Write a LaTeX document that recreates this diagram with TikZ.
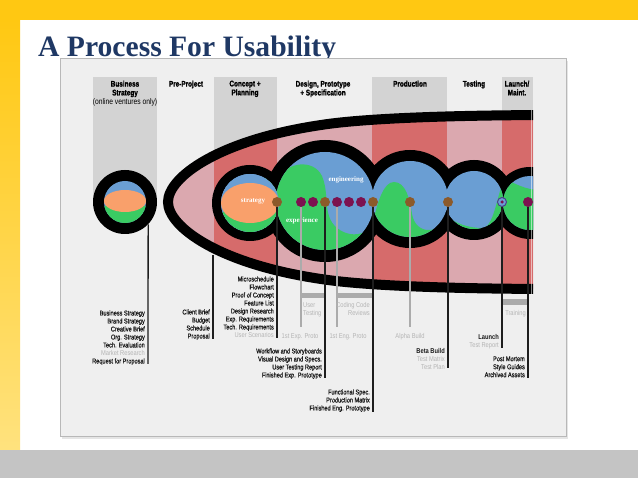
\documentclass[tikz,border=0pt]{standalone}
\usepackage{fontspec}
\newfontfamily\hd[FakeStretch=0.82]{Liberation Sans}
\newfontfamily\hdh[FakeStretch=0.78,FakeBold=1.2]{Liberation Sans}
\newfontfamily\hdm[FakeStretch=0.80,FakeBold=0.6]{Liberation Sans}
\newfontfamily\ttlfont{Liberation Serif}
\definecolor{yel}{HTML}{FFC812}
\definecolor{ylight}{HTML}{FFE27E}
\definecolor{botgray}{HTML}{C4C4C4}
\definecolor{navy}{HTML}{1F3864}
\definecolor{framebg}{HTML}{EFEFEF}
\definecolor{frameedge}{HTML}{B8B8B8}
\definecolor{bandc}{HTML}{D3D3D3}
\definecolor{pinkc}{HTML}{DBA8AF}
\definecolor{redc}{HTML}{D66B6B}
\definecolor{bluec}{HTML}{6A9ED3}
\definecolor{greenc}{HTML}{3ACB63}
\definecolor{orangec}{HTML}{F9A06B}
\definecolor{brownc}{HTML}{8C5A2A}
\definecolor{purplec}{HTML}{7C1250}
\definecolor{ringc}{HTML}{4B3A8A}
\definecolor{gline}{HTML}{ABABAB}
\definecolor{gtxt}{HTML}{B4B4B4}
\definecolor{dline}{HTML}{1E1E1E}
\def\ellpath{(168,202) .. controls (168,177) and (219,140) .. (321,125) .. controls (372,117) and (480,115) .. (560,115) -- (560,289) .. controls (480,289) and (372,287) .. (321,279) .. controls (219,264) and (168,227) .. (168,202) -- cycle}
\begin{document}
\begin{tikzpicture}[x=1pt,y=-1pt,
  hdr/.style={font=\hdh\bfseries\fontsize{8.2}{8.8}\selectfont,align=center,inner sep=0pt,anchor=north},
  lst/.style={font=\hdm\fontsize{7}{8}\selectfont,align=right,inner sep=0pt,anchor=north east,text=black!90},
  glst/.style={lst,font=\hd\fontsize{7}{8}\selectfont,text=gtxt},
  dk/.style={draw=dline,line width=1.3pt},
  gl/.style={draw=gline,line width=1.2pt},
  bdot/.style={circle,fill=brownc,inner sep=0pt,minimum size=10pt},
  pdot/.style={circle,fill=purplec,inner sep=0pt,minimum size=10pt},
  lbl/.style={font=\ttlfont\bfseries\fontsize{7}{8}\selectfont,text=white,inner sep=0pt}
]
\useasboundingbox (0,0) rectangle (638,478);
% slide background
\fill[white] (0,0) rectangle (638,478);
\fill[yel] (0,0) rectangle (638,20);
\shade[top color=yel,bottom color=ylight] (0,20) rectangle (20,450);
\fill[botgray] (0,450) rectangle (638,478);
% title
\node[font=\ttlfont\bfseries\fontsize{29.6}{32}\selectfont,text=navy,anchor=base west,inner sep=0pt] (title) at (38,57) {A Process For Usability};
% frame
\fill[black!10] (62,61) rectangle (568,439);
\filldraw[fill=framebg,draw=frameedge,line width=1pt] (60,59) rectangle (566,437);
% diagram
\begin{scope}
\clip (61,60) rectangle (533,436);
\fill[bandc] (93,77) rectangle (157,202);
\fill[bandc] (214,77) rectangle (277,210);
\fill[bandc] (372,77) rectangle (447,210);
\fill[bandc] (502,77) rectangle (533,210);
\fill[pinkc] \ellpath;
\begin{scope}
\clip \ellpath;
\fill[redc] (214,100) rectangle (277,300);
\fill[redc] (372,100) rectangle (447,300);
\fill[redc] (502,100) rectangle (533,300);
\end{scope}
\draw[dk] (213,255) coordinate (ppstart) -- (213,339) coordinate (ppend);
\draw[line width=10pt] \ellpath;
% chain
\fill[black] (250,203) circle[radius=38] (325,201) circle[radius=61] (410,199) circle[radius=49] (474,200) circle[radius=40] (530,203) circle[radius=36];
\begin{scope}
\clip (250,203) circle[radius=29] (325,201) circle[radius=49] (410,199) circle[radius=38] (474,200) circle[radius=29] (530,203) circle[radius=27];
\fill[bluec] (200,140) rectangle (560,260);
\fill[greenc] (262,178) -- (279,177) .. controls (287,163) and (313,158) .. (322,176) .. controls (328,190) and (325,205) .. (329,216) .. controls (335,236) and (365,242) .. (373,222) .. controls (378,200) and (384,182) .. (394,182) .. controls (406,182) and (410,200) .. (412,214) .. controls (416,236) and (440,234) .. (448,216) .. controls (455,224) and (470,228) .. (482,228) .. controls (496,228) and (498,182) .. (506,180) .. controls (515,183) and (525,190) .. (540,190) -- (540,270) -- (262,270) -- cycle;
\end{scope}
\begin{scope}
\clip (250,203) circle[radius=29];
\fill[bluec] (220,170) rectangle (280,240);
\fill[greenc] (220,212) rectangle (280,240);
\fill[orangec] (250,203) ellipse[x radius=29,y radius=20];
\end{scope}
\draw[white,opacity=.55,line width=1.5pt] (531.5,110) -- (531.5,295);
\end{scope}
% business circle
\node[circle,fill=black,minimum size=64pt,inner sep=0pt] (bc) at (125,202) {};
\begin{scope}
\clip (125,202) circle[radius=21];
\fill[bluec] (100,178) rectangle (150,226);
\fill[greenc] (100,206) rectangle (150,226);
\fill[orangec] (125,201) ellipse[x radius=21,y radius=11];
\end{scope}
% labels in chain
\node[lbl] (lstr) at (253,201) {strategy};
\node[lbl] (leng) at (346,180) {engineering};
\node[lbl] (lexp) at (302,221) {experience};
% dots
\node[bdot] (b1) at (277,202) {};
\node[pdot] (p1) at (301,202) {};
\node[pdot] (p2) at (313,202) {};
\node[bdot] (b2) at (325,202) {};
\node[pdot] (p3) at (337,202) {};
\node[pdot] (p4) at (349,202) {};
\node[pdot] (p5) at (361,202) {};
\node[bdot] (b3) at (373,202) {};
\node[bdot] (b4) at (410,202) {};
\node[bdot] (b5) at (448,202) {};
\node[circle,draw=ringc,line width=0.9pt,fill=bluec,inner sep=0pt,minimum size=9pt] (r1) at (502,202) {};
\node[circle,fill=purplec,inner sep=0pt,minimum size=3.5pt] (r1c) at (502,202) {};
\node[pdot] (p6) at (528,202) {};
% end coordinates
\coordinate (bend) at (148,364);
\coordinate (e1) at (277,338);
\coordinate (e2) at (325,378);
\coordinate (e3) at (373,412);
\coordinate (e4) at (410,327);
\coordinate (e5) at (448,368);
\coordinate (ep1) at (301,327);
\coordinate (ep3) at (337,327);
\coordinate (er1) at (502,348);
\coordinate (ep6) at (528,378);
% connectors
\draw[dk] (bc.-44) -- (bend);
\draw[dk] (b1) -- (e1);
\draw[dk] (b2) -- (e2);
\draw[dk] (b3) -- (e3);
\draw[gl] (b4) -- (e4);
\draw[dk] (b5) -- (e5);
\draw[gl] (p1) -- (ep1);
\draw[gl] (p3) -- (ep3);
\draw[dk] (r1) -- (er1);
\draw[dk] (p6) -- (ep6);
% gray bars
\fill[gline] (301,293) rectangle (324,298);
\fill[gline] (337,293) rectangle (372,298);
\fill[gline] (503,299) rectangle (527,305);
% headers
\node[hdr] (h1) at (125,80.5) {Business\\Strategy\\{\hd\mdseries(online ventures only)}};
\node[hdr] (h2) at (186,80.5) {Pre-Project};
\node[hdr] (h3) at (245,80.5) {Concept +\\Planning};
\node[hdr] (h4) at (323,80.5) {Design, Prototype\\+ Specification};
\node[hdr] (h5) at (410,80.5) {Production};
\node[hdr] (h6) at (474,80.5) {Testing};
\node[hdr] (h7) at (517,80.5) {Launch/\\Maint.};
% lists
\node[lst] (blist) at (145,310.2) {Business Strategy\\Brand Strategy\\Creative Brief\\Org. Strategy\\Tech. Evaluation\\{\hd\textcolor{gtxt}{Market Research}}\\Request for Proposal};
\node[lst] (plist) at (210,309.2) {Client Brief\\Budget\\Schedule\\Proposal};
\node[lst] (clist) at (274,276.2) {Microschedule\\Flowchart\\Proof of Concept\\Feature List\\Design Research\\Exp. Requirements\\Tech. Requirements\\{\hd\textcolor{gtxt}{User Scenarios}}};
\node[lst] (dlist) at (322,348.2) {Workflow and Storyboards\\Visual Design and Specs.\\User Testing Report\\Finished Exp. Prototype};
\node[lst] (elist) at (370,389.2) {Functional Spec.\\Production Matrix\\Finished Eng. Prototype};
\node[lst] (tlist) at (445,348.2) {{\hd\bfseries Beta Build}\\{\hd\textcolor{gtxt}{Test Matrix}}\\{\hd\textcolor{gtxt}{Test Plan}}};
\node[lst] (llist) at (499,334.2) {{\hd\bfseries Launch}\\{\hd\textcolor{gtxt}{Test Report}}};
\node[lst] (mlist) at (525,356.2) {Post Mortem\\Style Guides\\Archived Assets};
\node[glst,align=left,anchor=north west] (ut) at (303,302.2) {User\\Testing};
\node[glst] (cc) at (370,302.2) {Coding Code\\Reviews};
\node[glst] (tr) at (526,310.2) {Training};
\node[glst,anchor=center] (x1) at (300,337) {1st Exp. Proto};
\node[glst,anchor=center] (x2) at (348,337) {1st Eng. Proto};
\node[glst,anchor=center] (x3) at (410,337) {Alpha Build};
\end{tikzpicture}
\end{document}
